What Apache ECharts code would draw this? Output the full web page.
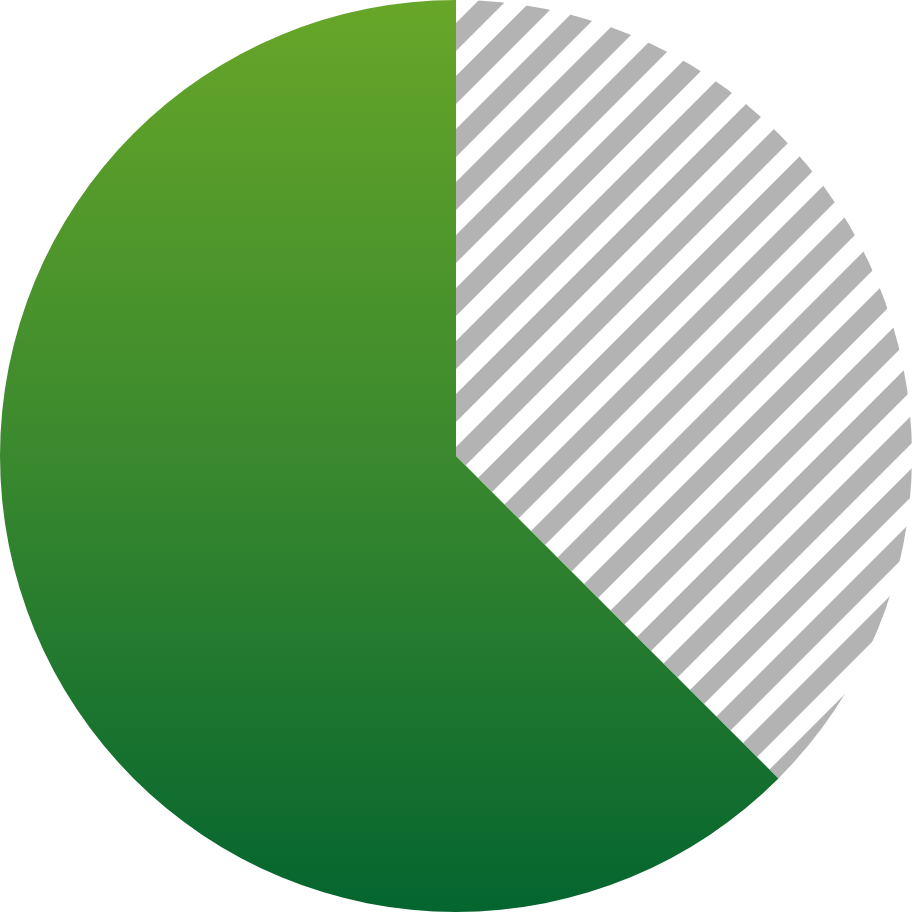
<!DOCTYPE html>
<html>
<head>
<meta charset="utf-8">
<script src="https://cdn.jsdelivr.net/npm/echarts@6/dist/echarts.min.js"></script>
<style>
    html, body { margin: 0; padding: 0; background: #ffffff; }
    #chart { width: 912px; height: 912px; }
</style>
</head>
<body>
<div id="chart"></div>
<script>
// slice values, clockwise from 12 o'clock
const sliceNames = ['Rest', 'Share'];
const sliceValues = [37.5, 62.5];

// diagonal grey stripes on white, tiled from the canvas origin
function stripeTile() {
    const size = 53;
    const tile = document.createElement('canvas');
    tile.width = size;
    tile.height = size;
    const ctx = tile.getContext('2d');
    ctx.fillStyle = '#ffffff';
    ctx.fillRect(0, 0, size, size);
    ctx.strokeStyle = '#b3b3b3';
    ctx.lineWidth = 28 / Math.SQRT2;
    [-size, 0, size, 2 * size].forEach((k) => {
        const c = 16 + k;
        ctx.beginPath();
        ctx.moveTo(-size, c + size);
        ctx.lineTo(c + size, -size);
        ctx.stroke();
    });
    return tile;
}

const greenFill = new echarts.graphic.LinearGradient(0, 0, 0, 1, [
    { offset: 0, color: '#67a628' },
    { offset: 0.5, color: '#3a892e' },
    { offset: 1, color: '#04652f' }
]);

const sliceFills = [
    { image: stripeTile(), repeat: 'repeat' },
    greenFill
];

var myChart = echarts.init(document.getElementById('chart'));

var option = {
    animation: false,
    series: [
        {
            type: 'pie',
            center: ['50%', '50%'],
            radius: '100%',
            startAngle: 90,
            clockwise: true,
            label: { show: false },
            labelLine: { show: false },
            emphasis: { disabled: true },
            data: sliceValues.map((v, i) => ({
                name: sliceNames[i],
                value: v,
                itemStyle: { color: sliceFills[i], borderWidth: 0 }
            }))
        }
    ]
};

myChart.setOption(option);
</script>
</body>
</html>
